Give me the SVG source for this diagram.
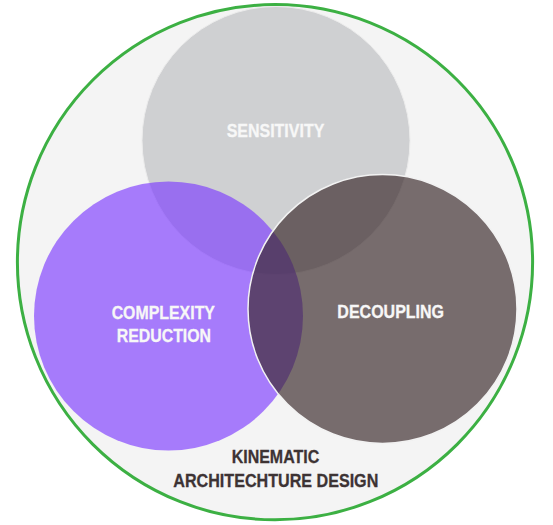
<svg xmlns="http://www.w3.org/2000/svg" width="553" height="525" viewBox="0 0 553 525">
<style>
.lbl{font-family:"Liberation Sans",Arial,sans-serif;font-weight:bold;font-size:18.5px;text-anchor:middle;stroke-width:0.3;}
.w{fill:#f7f7f7;stroke:#f7f7f7;}
.d{fill:#3d3334;stroke:#3d3334;}
</style>
<rect width="553" height="525" fill="#ffffff"/>
<g id="outer">
<circle cx="275" cy="262.2" r="257.6" fill="#f4f4f4" stroke="#3cb043" stroke-width="3"/>
<text class="lbl d" x="275.5" y="463.3" textLength="87.6" lengthAdjust="spacingAndGlyphs">KINEMATIC</text>
<text class="lbl d" x="275.8" y="486.7" textLength="205" lengthAdjust="spacingAndGlyphs">ARCHITECHTURE DESIGN</text>
</g>
<g id="sensitivity">
<circle cx="276" cy="140.5" r="134" fill="#cfd0d2" stroke="#ececec" stroke-width="1"/>
<text class="lbl w" x="275.5" y="136.7" textLength="97.6" lengthAdjust="spacingAndGlyphs">SENSITIVITY</text>
</g>
<g id="complexity">
<circle cx="168.5" cy="316" r="134.5" fill="#7c3bff" fill-opacity="0.65"/>
<text class="lbl w" x="163.3" y="319" textLength="103.3" lengthAdjust="spacingAndGlyphs">COMPLEXITY</text>
<text class="lbl w" x="163.9" y="341.7" textLength="94.3" lengthAdjust="spacingAndGlyphs">REDUCTION</text>
</g>
<g id="decoupling">
<circle cx="382.5" cy="309" r="134.5" fill="#362627" fill-opacity="0.66" stroke="#f2f2f2" stroke-width="1.5"/>
<text class="lbl w" x="390.7" y="318.3" textLength="106.7" lengthAdjust="spacingAndGlyphs">DECOUPLING</text>
</g>
<g id="connectors"></g>
</svg>
